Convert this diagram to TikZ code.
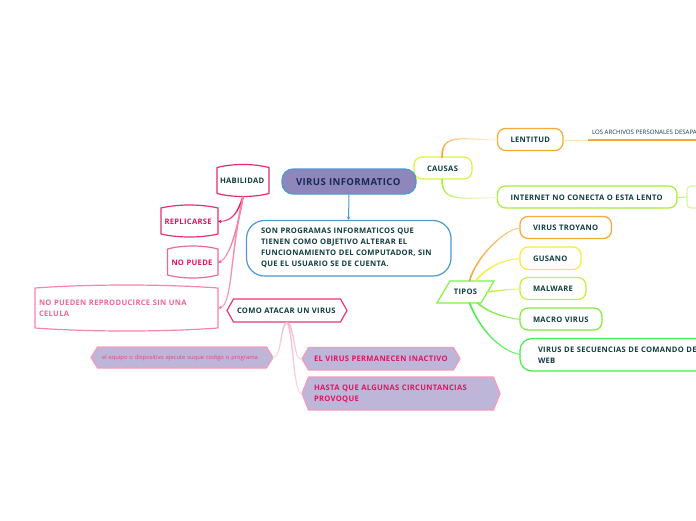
\documentclass[tikz,border=0pt]{standalone}
\usepackage{fontspec}
\setmainfont{Open Sans}
\newfontfamily\spaced[LetterSpace=4]{Open Sans}
\usetikzlibrary{arrows.meta,calc}
\definecolor{inkdark}{HTML}{0F3D40}
\definecolor{inknavy}{HTML}{16295C}
\definecolor{blueline}{HTML}{4A9BD0}
\definecolor{purplefill}{HTML}{8F86BC}
\definecolor{lilacfill}{HTML}{BDB6D8}
\definecolor{pinkdeep}{HTML}{E5125F}
\definecolor{pinkmid}{HTML}{F0659A}
\definecolor{pinklight}{HTML}{F685AE}
\definecolor{pinkpale}{HTML}{F79ABD}
\definecolor{orangec}{HTML}{F9A63A}
\definecolor{yellowc}{HTML}{FAE83C}
\definecolor{limec}{HTML}{D6F53F}
\definecolor{grassc}{HTML}{A6EE3A}
\definecolor{malwarec}{HTML}{C2F03C}
\definecolor{macroc}{HTML}{80EA3E}
\definecolor{greenc}{HTML}{44EE44}
\definecolor{tiposc}{HTML}{7CF545}
\tikzset{
  lab/.style={inner ysep=0pt,outer sep=0pt,align=left,text=inkdark,font=\spaced\fontsize{7.6}{11}\selectfont\bfseries},
  pinklab/.style={lab,text=pinkdeep},
  softlab/.style={lab,text=pinkmid},
  outline/.style={line width=1.2pt},
  tiplet/.style={-{Stealth[length=3.5pt,width=3.5pt]}},
}
% box outlines, all by corner coordinates
\newcommand\roundbox[6]{\draw[outline,draw=#1,fill=white,rounded corners=#2pt] (#3,#4) rectangle (#5,#6);}
\newcommand\bulgebox[5]{\draw[outline,draw=#1,fill=white,line join=round]
  (#2,#3+3) .. controls (#2+.3*#4-.3*#2,#3-1) and (#4-.3*#4+.3*#2,#3-1) .. (#4,#3+3) -- (#4,#5-3)
  .. controls (#4-.3*#4+.3*#2,#5+1) and (#2+.3*#4-.3*#2,#5+1) .. (#2,#5-3) -- cycle;}
\newcommand\hexbox[7]{\draw[outline,draw=#1,fill=#2,line join=round]
  (#3,#4/2+#6/2) -- (#3+#7,#4) -- (#5-#7,#4) -- (#5,#4/2+#6/2) -- (#5-#7,#6) -- (#3+#7,#6) -- cycle;}
% named text node covering a box
\newcommand\lbl[8][13]{%
  \pgfmathsetmacro\cx{(#3+#5)/2}\pgfmathsetmacro\cy{(#4+#6)/2}%
  \pgfmathsetmacro\tw{#5-#3-2*#1}\pgfmathsetmacro\hh{#6-#4}%
  \node[#7,inner xsep=#1pt,text width=\tw pt,minimum height=\hh pt] (#2) at (\cx,\cy) {#8};}
% tapering connector: saturated at the parent, pale at the child
\newcommand\branch[7][]{%
  \foreach \i in {0,...,12}{\path (#3) .. controls +(#4) and +(#5) .. (#6) coordinate[pos=\i/12] (p\i);}%
  \foreach \i [count=\j from 1] in {0,...,11}{%
    \pgfmathtruncatemacro\pct{100-\i*#7}\pgfmathsetmacro\lw{1.6-\i*.06}%
    \draw[color=#2!\pct!white,line width=\lw pt,line cap=round] (p\i)--(p\j);}%
  \ifx\relax#1\relax\else\draw[color=#2,line width=.7pt,#1] (p11)--(p12);\fi}
\begin{document}
\begin{tikzpicture}[x=1pt,y=-1pt]
\useasboundingbox (0,0) rectangle (696,520);
\clip (0,0) rectangle (696,520);
\fill[white] (0,0) rectangle (696,520);

% shapes
\roundbox{limec}{8}{414}{157}{472}{179}
\draw[outline,draw=blueline,fill=purplefill,rounded corners=11pt] (282,169) rectangle (416,194);
\roundbox{blueline}{18}{246.5}{220.5}{451}{276}
\bulgebox{pinkdeep!80!pinklight}{217}{164.5}{269}{196.5}
\bulgebox{pinkdeep!75!pinklight}{161}{205}{218}{237}
\bulgebox{pinkmid}{167.5}{246}{218}{278}
\bulgebox{pinklight}{35}{285}{218}{331}
\hexbox{pinkdeep!85!white}{white}{227}{299}{347}{322}{6.5}
\hexbox{pinkpale}{lilacfill}{91}{347}{273}{368}{6.5}
\hexbox{pinkpale}{lilacfill}{302}{347.5}{460}{370}{6.5}
\hexbox{pinkpale}{lilacfill}{302}{377}{500}{410}{6.5}
\roundbox{orangec}{8}{497.5}{128.5}{563}{150.5}
\roundbox{grassc}{8}{497.5}{186}{677}{208}
\roundbox{grassc!45!white}{4}{687}{186}{730}{208}
\draw[outline,draw=tiposc,fill=white] (450,281) -- (494,281) -- (481,303) -- (437,303) -- cycle;
\roundbox{orangec}{8}{520}{216.5}{611.5}{238.5}
\roundbox{yellowc}{8}{520}{247}{581}{269.5}
\roundbox{malwarec}{8}{520}{277.5}{586}{299.5}
\roundbox{macroc}{8}{520}{308}{602}{330}
\roundbox{greenc}{12}{520}{338.5}{760}{371}

% named text nodes
\lbl[14]{central}{282}{169}{416}{194.6}{lab,text=inknavy,font=\spaced\fontsize{9.6}{11}\selectfont\bfseries}{VIRUS INFORMATICO}
\lbl[15]{desc}{246}{220}{451}{276}{lab}{SON PROGRAMAS INFORMATICOS QUE\\TIENEN COMO OBJETIVO ALTERAR EL\\FUNCIONAMIENTO DEL COMPUTADOR, SIN\\QUE EL USUARIO SE DE CUENTA.}
\lbl[3]{hab}{217}{165}{269}{197}{lab}{HABILIDAD}
\lbl[3.5]{repl}{161}{205.5}{218}{237.5}{pinklab}{REPLICARSE}
\lbl[4]{nop}{167.5}{246.5}{218}{278.5}{pinklab}{NO PUEDE}
\lbl[4]{nopn}{35}{285}{218}{331}{softlab}{NO PUEDEN REPRODUCIRCE SIN UNA\\CELULA}
\lbl[10]{como}{227}{299.5}{347}{322.5}{lab}{COMO ATACAR UN VIRUS}
\lbl[11]{equipo}{91}{347}{273}{368}{lab,text=pinkdeep!80!white,font=\fontsize{5.8}{7}\selectfont}{el equipo o dispositivo ejecute suque codigo o programa}
\lbl[12]{perm}{302}{348}{460}{370.5}{pinklab}{EL VIRUS PERMANECEN INACTIVO}
\lbl[12]{hasta}{302}{377.5}{500}{410.5}{pinklab}{HASTA QUE ALGUNAS CIRCUNTANCIAS\\PROVOQUE}
\lbl{causas}{414}{157.5}{472}{179.5}{lab}{CAUSAS}
\lbl{lent}{497.5}{129}{563}{151}{lab}{LENTITUD}
\lbl{inet}{497.5}{186.5}{677}{208.5}{lab}{INTERNET NO CONECTA O ESTA LENTO}
\node[lab,font=\fontsize{6.1}{7}\selectfont,inner xsep=0pt,anchor=west] (arch) at (592,132) {LOS ARCHIVOS PERSONALES DESAPA};
\coordinate (archend) at (696,140);
\coordinate (archstart) at (588,140);
\coordinate (smallbox) at (687,197);
\lbl[8]{tipos}{437}{281}{494}{303}{lab,align=center}{TIPOS}
\lbl{troy}{520}{217}{611.5}{239}{lab}{VIRUS TROYANO}
\lbl{gus}{520}{247.5}{581}{270}{lab}{GUSANO}
\lbl{mal}{520}{278}{586}{300}{lab}{MALWARE}
\lbl{mac}{520}{308.5}{602}{330.5}{lab}{MACRO VIRUS}
\lbl[18]{sec}{520}{338.5}{760}{371}{lab}{VIRUS DE SECUENCIAS DE COMANDO DE\\WEB}

% connectors
\draw[color=blueline,line width=1pt,tiplet] (central.south) -- (desc.north);
\branch[tiplet]{pinkdeep}{hab.south}{-6,17}{14,0}{repl.east}{3}
\branch[tiplet]{pinkmid}{hab.south}{-5,28}{12,-2}{nop.east}{3}
\branch[tiplet]{pinklight}{hab.south}{-14,62}{15,2}{nopn.east}{2}
\branch{pinkpale!70!white}{como.south}{-7,2}{9,0}{equipo.east}{4}
\branch{pinkpale!70!white}{como.south}{8,2}{-9,2}{perm.west}{4}
\branch{pinkpale!70!white}{como.south}{6,4}{-9,2}{hasta.west}{4}
\branch{orangec}{[xshift=-1pt]causas.north}{0,-24}{-40,-1}{lent.west}{7}
\branch{grassc}{[xshift=-1pt]causas.south}{0,22}{-40,1}{inet.west}{7}
\branch{orangec}{[xshift=4pt]tipos.north}{6,-24}{-14,0}{troy.west}{4}
\branch{yellowc}{[xshift=10pt]tipos.north}{12,-15}{-14,0}{gus.west}{2}
\branch{malwarec}{[xshift=-7pt]tipos.east}{10,-1}{-10,0}{mal.west}{4}
\branch{macroc}{[xshift=12pt]tipos.south}{14,12}{-12,-2}{mac.west}{2}
\branch{greenc}{[xshift=4pt]tipos.south}{12,30}{-18,-4}{sec.west}{2}
\draw[color=orangec!35!white,line width=1pt] (lent.east) -- (archstart);
\draw[color=orangec,line width=1.6pt] (archstart) -- (archend);
\draw[color=grassc!70!white,line width=1pt] (inet.east) -- (smallbox);
\end{tikzpicture}
\end{document}
